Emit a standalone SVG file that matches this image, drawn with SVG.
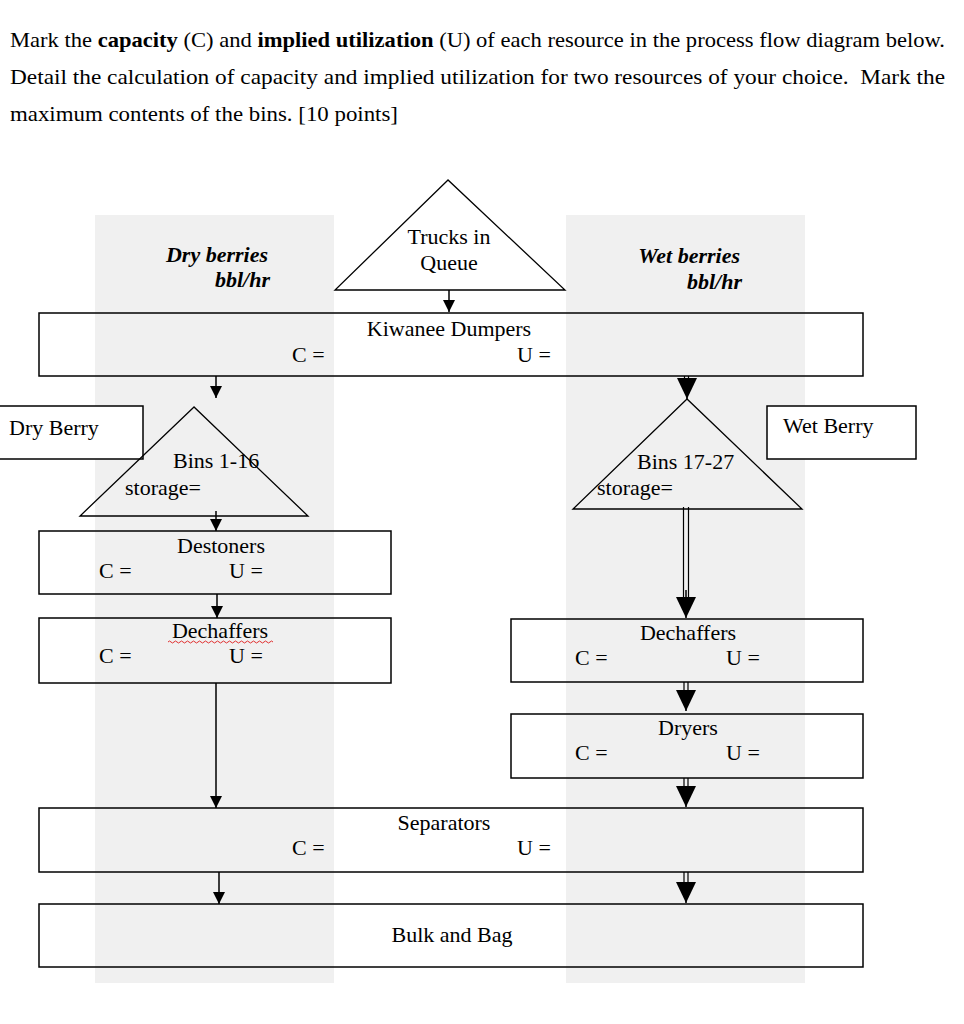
<svg xmlns="http://www.w3.org/2000/svg" width="964" height="1024" viewBox="0 0 964 1024">
<style>
text{font-family:"Liberation Serif","Times New Roman",serif;fill:#000}
.t{font-size:22px}
.d{font-size:22px}
.bi{font-size:22px;font-weight:bold;font-style:italic}
.box{fill:none;stroke:#000;stroke-width:1.5}
.wbox{fill:#fff;stroke:#000;stroke-width:1.5}
.tri{fill:none;stroke:#000;stroke-width:1.3}
.band{fill:#f0f0f0}
.ln{stroke:#000;stroke-width:1.5;fill:none}
.dl{stroke:#000;stroke-width:1.2;fill:none}
</style>
<defs>
<marker id="sa" markerUnits="userSpaceOnUse" markerWidth="12" markerHeight="12" refX="12" refY="6" orient="auto"><path d="M0,0 L12,6 L0,12 z" fill="#000"/></marker>
<marker id="ba" markerUnits="userSpaceOnUse" markerWidth="21" markerHeight="20" refX="21" refY="10" orient="auto"><path d="M0,0 L21,10 L0,20 z" fill="#000"/></marker>
</defs>
<rect width="964" height="1024" fill="#fff"/>
<g id="question">
<text class="t" x="10" y="47" textLength="935" lengthAdjust="spacingAndGlyphs">Mark the <tspan font-weight="bold">capacity</tspan> (C) and <tspan font-weight="bold">implied utilization</tspan> (U) of each resource in the process flow diagram below.</text>
<text class="t" x="10" y="84" textLength="935" lengthAdjust="spacingAndGlyphs" xml:space="preserve">Detail the calculation of capacity and implied utilization for two resources of your choice.  Mark the</text>
<text class="t" x="10" y="121" textLength="388" lengthAdjust="spacingAndGlyphs">maximum contents of the bins. [10 points]</text>
</g>
<g id="bands">
<rect class="band" x="95" y="215" width="239" height="768"/>
<rect class="band" x="566" y="215" width="239" height="768"/>
</g>
<g id="dry-label">
<text class="bi" x="268" y="262" text-anchor="end">Dry berries</text>
<text class="bi" x="270" y="287" text-anchor="end">bbl/hr</text>
</g>
<g id="wet-label">
<text class="bi" x="740" y="263" text-anchor="end">Wet berries</text>
<text class="bi" x="742" y="289" text-anchor="end">bbl/hr</text>
</g>
<g id="trucks">
<polygon class="tri" points="448,180 335,290 565,290"/>
<text class="d" x="449" y="244" text-anchor="middle">Trucks in</text>
<text class="d" x="449" y="270" text-anchor="middle">Queue</text>
</g>
<g id="dumpers">
<rect class="box" x="39" y="313" width="824" height="63"/>
<text class="d" x="449" y="336" text-anchor="middle">Kiwanee Dumpers</text>
<text class="d" x="292" y="362">C =</text>
<text class="d" x="517" y="362">U =</text>
</g>
<g id="dry-berry">
<rect class="wbox" x="-2" y="406" width="145" height="53"/>
<text class="d" x="9" y="435">Dry Berry</text>
</g>
<g id="bins-1-16">
<polygon class="tri" points="194,407 80,516 308,516"/>
<text class="d" x="173" y="468">Bins 1-16</text>
<text class="d" x="125" y="495">storage=</text>
</g>
<g id="destoners">
<rect class="box" x="39" y="531" width="352" height="63"/>
<text class="d" x="221" y="553" text-anchor="middle">Destoners</text>
<text class="d" x="99" y="578">C =</text>
<text class="d" x="229" y="578">U =</text>
</g>
<g id="dechaffers-dry">
<rect class="box" x="39" y="618" width="352" height="65"/>
<text class="d" x="220" y="638" text-anchor="middle">Dechaffers</text>
<path d="M168,642 q1.5,-2 3,0 t3,0 t3,0 t3,0 t3,0 t3,0 t3,0 t3,0 t3,0 t3,0 t3,0 t3,0 t3,0 t3,0 t3,0 t3,0 t3,0 t3,0 t3,0 t3,0 t3,0 t3,0 t3,0 t3,0 t3,0 t3,0 t3,0 t3,0 t3,0 t3,0 t3,0 t3,0 t3,0 t3,0 t3,0" fill="none" stroke="#e03030" stroke-width="1"/>
<text class="d" x="99" y="663">C =</text>
<text class="d" x="229" y="663">U =</text>
</g>
<g id="wet-berry">
<rect class="wbox" x="767" y="406" width="149" height="53"/>
<text class="d" x="783" y="433">Wet Berry</text>
</g>
<g id="bins-17-27">
<polygon class="tri" points="687,399 573,509 802,509"/>
<text class="d" x="637" y="469">Bins 17-27</text>
<text class="d" x="597" y="495">storage=</text>
</g>
<g id="dechaffers-wet">
<rect class="box" x="511" y="619" width="352" height="63"/>
<text class="d" x="688" y="640" text-anchor="middle">Dechaffers</text>
<text class="d" x="575" y="665">C =</text>
<text class="d" x="726" y="665">U =</text>
</g>
<g id="dryers">
<rect class="box" x="511" y="714" width="352" height="64"/>
<text class="d" x="688" y="735" text-anchor="middle">Dryers</text>
<text class="d" x="575" y="760">C =</text>
<text class="d" x="726" y="760">U =</text>
</g>
<g id="separators">
<rect class="box" x="39" y="808" width="824" height="64"/>
<text class="d" x="444" y="830" text-anchor="middle">Separators</text>
<text class="d" x="292" y="855">C =</text>
<text class="d" x="517" y="855">U =</text>
</g>
<g id="bulk-and-bag">
<rect class="box" x="39" y="904" width="824" height="63"/>
<text class="d" x="452" y="942" text-anchor="middle">Bulk and Bag</text>
</g>
<g id="connectors">
<line class="ln" x1="449" y1="290" x2="449" y2="312" marker-end="url(#sa)"/>
<line class="ln" x1="216" y1="376" x2="216" y2="398" marker-end="url(#sa)"/>
<line class="ln" x1="216" y1="511" x2="216" y2="531" marker-end="url(#sa)"/>
<line class="ln" x1="217" y1="594" x2="217" y2="618" marker-end="url(#sa)"/>
<line class="ln" x1="216" y1="683" x2="216" y2="808" marker-end="url(#sa)"/>
<line class="ln" x1="219" y1="872" x2="219" y2="904" marker-end="url(#sa)"/>
<path class="dl" d="M684.5,376 V386 M688.5,376 V386"/>
<line class="ln" x1="687" y1="380" x2="687" y2="399" stroke="none" marker-end="url(#ba)"/>
<path class="dl" d="M683.5,507 V600 M688.5,507 V600"/>
<line class="ln" x1="686" y1="590" x2="686" y2="618" stroke="none" marker-end="url(#ba)"/>
<path class="dl" d="M684,682 V694 M688,682 V694"/>
<line class="ln" x1="686" y1="694" x2="686" y2="711" stroke="none" marker-end="url(#ba)"/>
<path class="dl" d="M684,778 V790 M688,778 V790"/>
<line class="ln" x1="686" y1="790" x2="686" y2="807" stroke="none" marker-end="url(#ba)"/>
<path class="dl" d="M684,872 V884 M688,872 V884"/>
<line class="ln" x1="686" y1="884" x2="686" y2="903" stroke="none" marker-end="url(#ba)"/>
</g>
</svg>
